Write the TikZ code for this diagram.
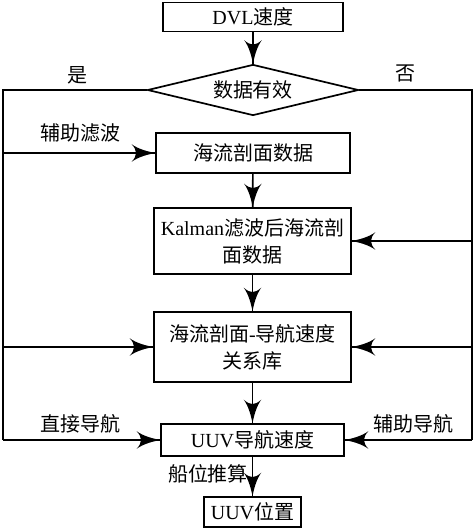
\documentclass[tikz,border=0pt]{standalone}
\usepackage{fontspec}
\setmainfont{Liberation Serif}
\newfontfamily\cjk{Noto Sans CJK SC}
\newcommand{\zh}[1]{{\cjk #1}}
\usetikzlibrary{arrows}
\usetikzlibrary{decorations.markings}
\usetikzlibrary{shapes.geometric}
\tikzset{arr/.style = {decoration={markings,
                                   mark=at position 1 with {\arrow[scale=2.2]{latex'}}},
                       postaction={decorate}}}
\tikzset{box/.style = {draw, rectangle, inner sep = 0, align = center,
                       font = \fontsize{10}{13.5}\selectfont}}
\tikzset{decide/.style = {draw, diamond, inner sep = 0, shape aspect = 4}}

\begin{document}
\begin{tikzpicture}[x=0.5pt, y=-0.5pt, line width=0.85pt]
    \useasboundingbox (0, 0) rectangle (474, 531);

    \node [box, minimum width=90pt, minimum height=14.5pt] (dvl) at (253, 17) {DVL\zh{速度}};
    \node [decide, minimum width=105.5pt, minimum height=25.5pt] (valid) at (253, 90) {\zh{数据有效}};
    \node [box, minimum width=97pt, minimum height=20pt] (prof) at (253, 153) {\zh{海流剖面数据}};
    \node [box, minimum width=98.5pt, minimum height=33pt] (kal) at (252.5, 241) {Kalman\zh{滤波后海流剖}\\\zh{面数据}};
    \node [box, minimum width=98.5pt, minimum height=35pt] (lib) at (252.5, 347) {\zh{海流剖面}-\zh{导航速度}\\\zh{关系库}};
    \node [box, minimum width=91.5pt, minimum height=16pt] (speed) at (252.5, 440) {UUV\zh{导航速度}};
    \node [box, minimum width=48.5pt, minimum height=15pt] (pos) at (252.5, 512) {UUV\zh{位置}};

    \coordinate (lt) at (3, 90);
    \coordinate (lb) at (3, 440);
    \coordinate (rt) at (472, 90);
    \coordinate (rb) at (472, 440);

    \node (yes) at (78, 75) {\zh{是}};
    \node (no) at (405, 73) {\zh{否}};
    \node (filt) at (80, 133) {\zh{辅助滤波}};
    \node (direct) at (80, 424) {\zh{直接导航}};
    \node (aided) at (413, 424) {\zh{辅助导航}};
    \node (dr) at (208, 474) {\zh{船位推算}};

    \draw [arr] (dvl) -- (valid);
    \draw [arr] (prof) -- (kal);
    \draw [arr] (kal) -- (lib);
    \draw [arr] (lib) -- (speed);
    \draw [arr] (speed) -- (pos);

    \draw (valid.west) -- (lt) -- (lb);
    \draw [arr] (lb) -- (speed.west);
    \draw (valid.east) -- (rt) -- (rb);
    \draw [arr] (rb) -- (speed.east);

    \draw [arr] (prof.west -| lt) -- (prof.west);
    \draw [arr] (lib.west -| lt) -- (lib.west);
    \draw [arr] (kal.east -| rt) -- (kal.east);
    \draw [arr] (lib.east -| rt) -- (lib.east);
\end{tikzpicture}
\end{document}
